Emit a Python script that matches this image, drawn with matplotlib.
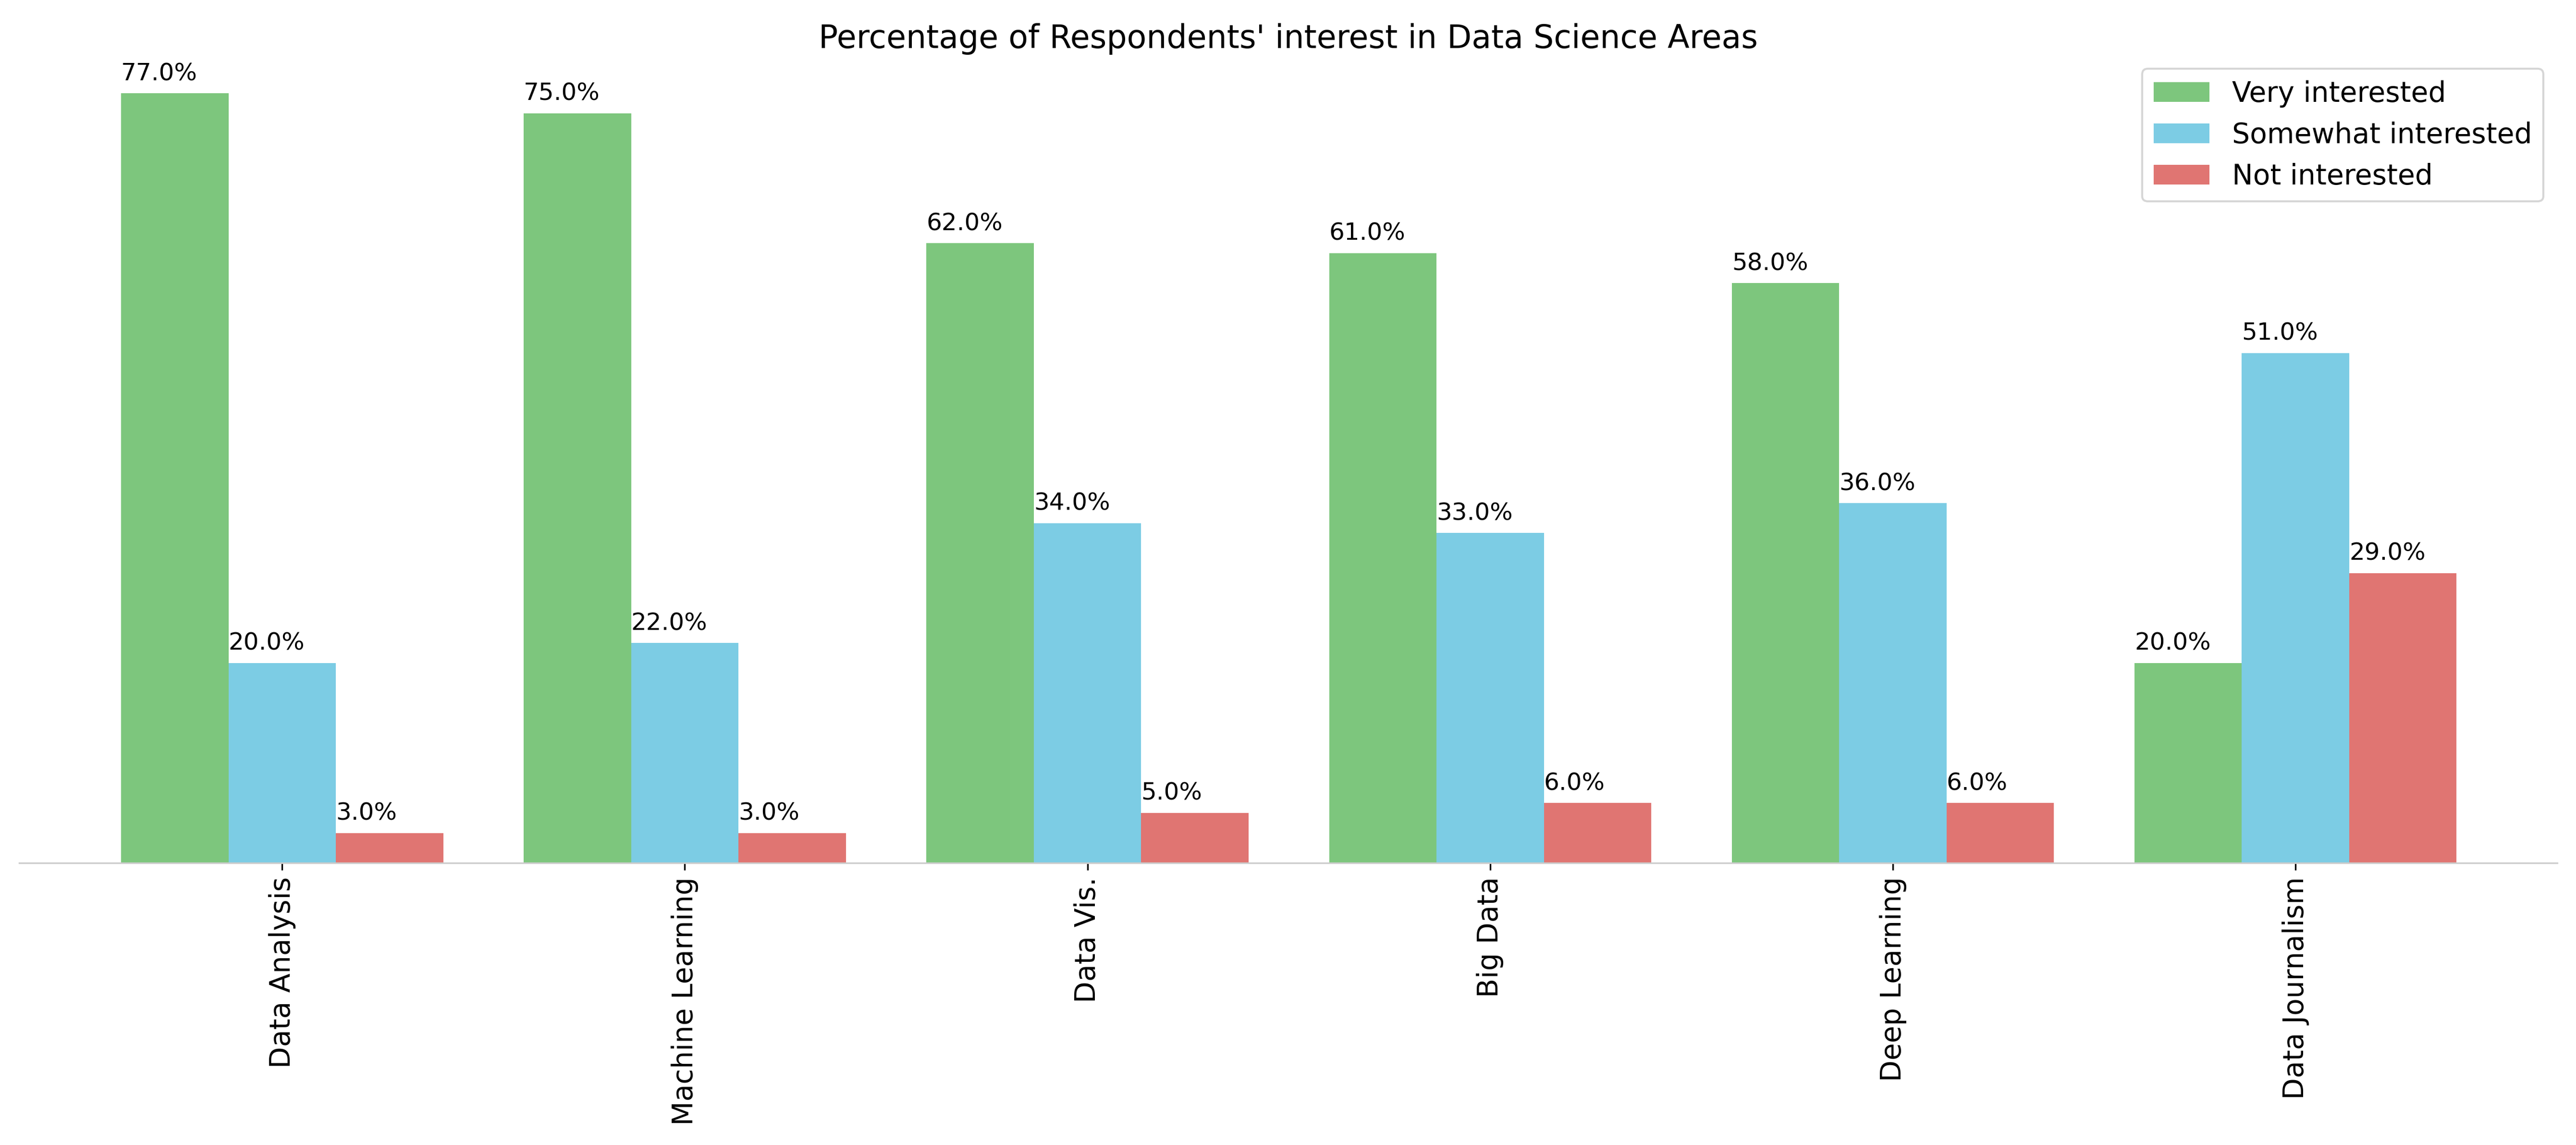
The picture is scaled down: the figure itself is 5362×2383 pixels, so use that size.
import matplotlib
matplotlib.use("Agg")
import matplotlib.pyplot as plt
import numpy as np

categories = ["Data Analysis", "Machine Learning", "Data Vis.", "Big Data",
              "Deep Learning", "Data Journalism"]
series_names = ["Very interested", "Somewhat interested", "Not interested"]
very_interested = [77, 75, 62, 61, 58, 20]
somewhat_interested = [20, 22, 34, 33, 36, 51]
not_interested = [3, 3, 5, 6, 6, 29]
colors = ["#5cb85c", "#5bc0de", "#d9534f"]

W, H, DPI = 5362, 2383, 300
fig = plt.figure(figsize=(W / DPI, H / DPI), dpi=DPI)
ax = fig.add_axes([40 / W, 1 - 1796 / H, (5323 - 40) / W, (1796 - 114) / H])

x = np.arange(len(categories))
width = 0.8 / 3
series = [very_interested, somewhat_interested, not_interested]
for i, (vals, name, c) in enumerate(zip(series, series_names, colors)):
    bars = ax.bar(x - 0.4 + i * width, vals, width, align="edge", color=c,
                  alpha=0.8, label=name)
    for b, v in zip(bars, vals):
        ax.text(b.get_x(), v + 1.3, f"{v:.1f}%", ha="left", va="baseline",
                fontsize=12)

ax.set_xlim(-0.653, 5.65)
ax.set_ylim(0, max(very_interested) * 1.05)
ax.set_xticks(x)
ax.set_xticklabels(categories, rotation=90, fontsize=14)
ax.set_yticks([])
for s in ["top", "right", "left"]:
    ax.spines[s].set_visible(False)
ax.spines["bottom"].set_color("#cccccc")
ax.tick_params(axis="x", colors="black")
ax.legend(fontsize=14, loc="upper right")
ax.set_title("Percentage of Respondents' interest in Data Science Areas",
             fontsize=16, pad=3)

fig.savefig("out.png", dpi=DPI)
